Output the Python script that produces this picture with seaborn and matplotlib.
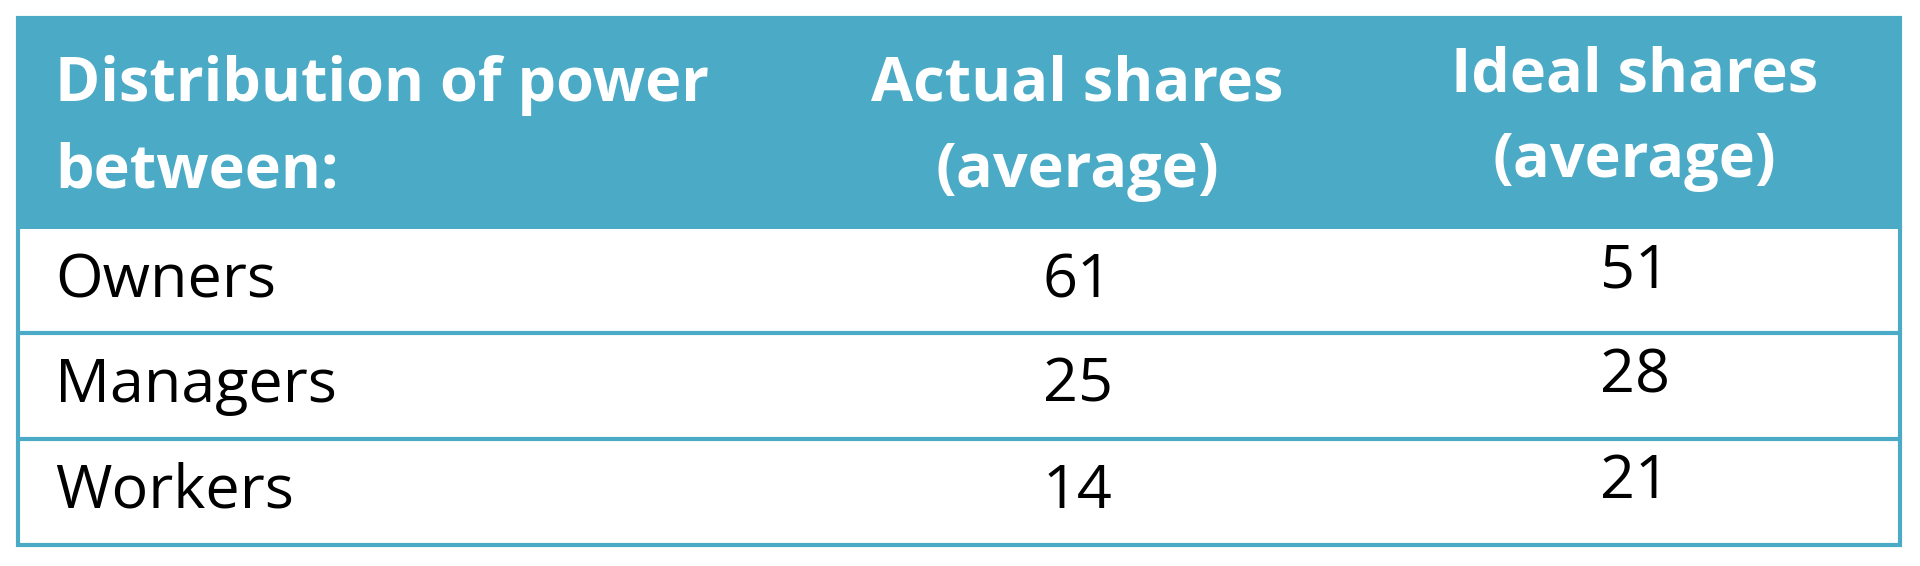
import matplotlib
matplotlib.use("Agg")
import matplotlib.pyplot as plt
import seaborn as sns

sns.set_theme(style="white")
plt.rcParams['font.family'] = ['Open Sans', 'DejaVu Sans']

header = ["Distribution of power\nbetween:", "Actual shares\n(average)", "Ideal shares\n(average)"]
groups = ["Owners", "Managers", "Workers"]
actual = [61, 25, 14]
ideal = [51, 28, 21]

blue = "#4BAAC6"
fig = plt.figure(figsize=(19.2, 5.66), dpi=100)
ax = fig.add_axes([0, 0, 1, 1])
ax.set_xlim(0, 1568); ax.set_ylim(462, 0); ax.axis("off")

L, R = 15, 1552
ys = [15, 187, 272, 358, 445]
ax.add_patch(plt.Rectangle((L, ys[0]), R - L, ys[1] - ys[0], color=blue, lw=0))
ax.add_patch(plt.Rectangle((L, ys[0]), R - L, ys[-1] - ys[0], fill=False, ec=blue, lw=3))
for y in ys[2:-1]:
    ax.plot([L, R], [y, y], color=blue, lw=3)

fs = 44
hy = (ys[0] + ys[1]) / 2
ax.text(45, hy + 4, header[0], color="white", fontsize=fs, fontweight="bold", va="center", ha="left", linespacing=1.55)
ax.text(880, hy + 4, header[1], color="white", fontsize=fs, fontweight="bold", va="center", ha="center", linespacing=1.55)
ax.text(1335, hy - 4, header[2], color="white", fontsize=fs, fontweight="bold", va="center", ha="center", linespacing=1.55)
for i, (g, a, b) in enumerate(zip(groups, actual, ideal)):
    cy = (ys[i + 1] + ys[i + 2]) / 2
    ax.text(45, cy, g, fontsize=fs, va="center", ha="left", color="black")
    ax.text(880, cy, str(a), fontsize=fs, va="center", ha="center", color="black")
    ax.text(1335, cy - 8, str(b), fontsize=fs, va="center", ha="center", color="black")

fig.savefig("out.png", dpi=100, facecolor="white")
